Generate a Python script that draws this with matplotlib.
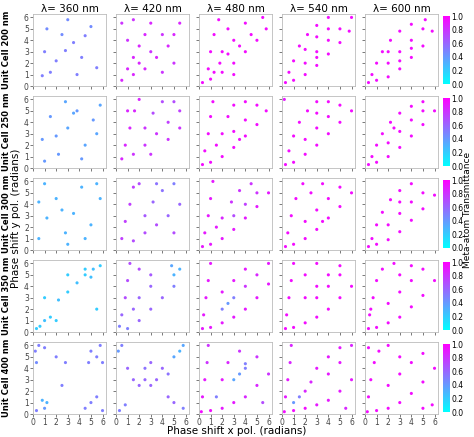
import matplotlib
matplotlib.use('Agg')
from matplotlib import pyplot as plt
import numpy as np

wavelengths = [360, 420, 480, 540, 600]
cells = [200, 250, 300, 350, 400]

# (x phase, y phase, transmittance)
p200_360 = [(1.0,3.0,.5),(1.5,1.2,.5),(2.5,4.5,.45),(3.5,3.8,.5),(4.2,2.5,.5),(5,5.2,.45),(0.8,0.9,.5),(2,2.2,.5),(3,5.8,.45),(5.5,1.6,.5),(4.5,4.4,.5),(1.2,5.0,.45),(3.8,1.0,.5),(2.8,3.1,.5)]
p200_420 = [(0.5,0.5,.85),(1,1.5,.85),(1.5,2.5,.85),(2,3.5,.85),(2.5,4.5,.85),(3,5.5,.85),(1.5,1,.85),(2.5,1.5,.85),(3.5,2.5,.85),(4.5,3.5,.85),(5,4.5,.85),(5.5,5.5,.85),(3,3,.8),(2,2,.85),(4,4.5,.8),(1,4,.8),(5,2,.8),(0.5,5.5,.8),(4,1.2,.8),(1.5,5.8,.8)]
p200_480 = [(0.3,0.3,.95),(0.8,1.5,.95),(1,3,.95),(1.3,4.5,.95),(1.7,5.8,.95),(1,0.6,.95),(2,1.2,.95),(3,2,.95),(4,3,.95),(5,4,.95),(5.8,5,.95),(2,3,.95),(3,4,.95),(2.5,5,.95),(4,5.5,.95),(3,1,.95),(1.8,2,.95),(2.5,2.8,.95),(3.5,3.5,.95),(4.5,4.5,.95),(5.5,6,.95),(1.3,1.2,.95)]
p200_540 = [(0.3,0.3,.95),(0.6,1.2,.95),(1,2.2,.95),(1.5,3.5,.95),(2.2,4.5,.95),(3,5.3,.95),(4,6,.95),(1,0.5,.95),(2,1,.95),(3,1.8,.95),(4,2.8,.95),(5,3.8,.95),(5.8,4.8,.95),(6,6,.95),(2,2,.95),(3,3,.95),(4,4,.95),(5,5,.95),(2,3.2,.95),(3,4.3,.95),(4,5,.95),(3,2.5,.95)]
p200_600 = [(0.3,0.3,.95),(0.6,1,.95),(1,2,.95),(1.5,3,.95),(2.2,4,.95),(3,4.8,.95),(4,5.4,.95),(5.2,5.8,.95),(1,0.5,.95),(2,0.8,.95),(3,1.5,.95),(4,2.5,.95),(5,3.5,.95),(5.8,4.8,.95),(2,2,.95),(3,3,.95),(4,4,.95),(5,5,.95),(2,3,.95),(3,2.2,.95),(4,3.3,.95)]

p250_360 = [(0.8,2.5,.4),(1.5,4.5,.4),(2.2,1.2,.4),(3,3.5,.35),(3.8,5,.4),(4.5,2,.35),(5.2,4.2,.4),(5.8,5.5,.35),(1,0.6,.4),(2.8,5.8,.35),(4.2,0.8,.4),(5.5,3,.35),(2,2.8,.4),(3.5,4.8,.35)]
p250_420 = [(0.5,0.8,.85),(0.8,2,.85),(1.2,3.5,.85),(1.6,5,.85),(2,6,.85),(1.5,1.2,.8),(2.5,2,.8),(3.5,3,.8),(4.5,4,.75),(5.5,5,.75),(2.5,3.5,.8),(3.2,4.8,.7),(4,5.8,.7),(3,1.2,.8),(4.5,2.5,.8),(5.5,3.5,.8),(5,5.8,.7),(1,5,.85)]
p250_480 = [(0.3,0.3,.95),(0.5,1.5,.95),(0.8,3,.95),(1,4.5,.95),(1.2,5.8,.95),(1,0.5,.95),(2,1,.95),(3,1.8,.95),(4,2.8,.95),(5,3.8,.95),(5.8,5,.95),(2,3,.95),(2.5,4.5,.95),(3,5.5,.95),(4,5.8,.95),(3,3.2,.95),(4,4.2,.95),(5,5.5,.95),(1.5,2,.95),(3.5,2.5,.95)]
p250_540 = [(0.3,0.3,.95),(0.6,1.5,.95),(1,2.8,.95),(1.5,4,.95),(2.2,5,.95),(3,5.8,.95),(1,0.5,.95),(2,1.2,.95),(3,2,.95),(4,3,.95),(5,4,.95),(6,5,.95),(2,2.5,.95),(3,3.5,.95),(4,4.5,.95),(5,5.5,.95),(4,5.8,.95),(3,4.8,.95),(0.2,6,.9)]
p250_600 = [(0.3,0.3,.95),(0.6,1,.95),(1,2,.95),(1.5,3,.95),(2.2,4,.95),(3,4.8,.95),(4,5.4,.95),(5,5.8,.95),(1,0.5,.95),(2,1,.95),(3,1.8,.95),(4,2.8,.95),(5,3.8,.95),(6,5,.95),(2,2.2,.95),(3,3.2,.95),(4,4.2,.95),(5,5,.95),(2.5,3.5,.95)]

p300_360 = [(0.5,1,.3),(1.2,2.8,.3),(2,4.5,.3),(2.8,1.5,.3),(3.5,3.2,.3),(4.2,5.5,.3),(5,2.2,.3),(5.8,4.5,.3),(1,5.8,.3),(3,0.5,.3),(4.5,1,.3),(5.5,5.8,.3),(2.5,3.5,.3),(0.5,4.2,.3)]
p300_420 = [(0.5,1,.75),(0.8,2.5,.75),(1.2,4,.75),(1.5,5.5,.75),(1.5,0.8,.7),(2.5,1.5,.7),(3.5,2.2,.7),(4.5,3,.6),(5.5,4,.6),(2.5,3,.65),(3.2,4.2,.6),(4,5.2,.55),(5,5.8,.5),(2,5.8,.7),(5,1.5,.7),(3.5,5.8,.55)]
p300_480 = [(0.3,0.3,.9),(0.5,1.5,.9),(0.8,3,.9),(1,4.5,.9),(1.2,6,.9),(1,0.5,.9),(2,1,.9),(3,1.8,.9),(4,2.8,.9),(5,3.8,.9),(6,5,.9),(2,2.8,.85),(2.8,4.2,.8),(3.5,5.2,.8),(4.5,5.8,.8),(3,3,.7),(4,4,.75),(5,5,.8),(1.5,2,.9)]
p300_540 = [(0.3,0.3,.95),(0.5,1.5,.95),(0.8,3,.95),(1.2,4.5,.95),(1.8,5.8,.95),(1,0.5,.95),(2,1,.95),(3,1.8,.95),(4,2.8,.95),(5,3.8,.95),(6,5,.95),(2,2.5,.95),(3,3.5,.95),(4,4.5,.95),(5,5.5,.95),(2.5,5,.95),(3.5,5.8,.95),(3.5,2.5,.95)]
p300_600 = [(0.3,0.3,.95),(0.6,1,.95),(1,2.2,.95),(1.5,3.3,.95),(2.2,4.4,.95),(3,5.2,.95),(4,5.8,.95),(1,0.5,.95),(2,0.9,.95),(3,1.6,.95),(4,2.6,.95),(5,3.6,.95),(6,4.8,.95),(2,2.2,.95),(3,3.2,.95),(4,4.2,.95),(5,5,.95),(3,4.2,.95)]

p350_360 = [(0.3,0.3,.2),(0.6,0.5,.2),(1,1,.25),(1.5,1.3,.2),(2.2,2.8,.25),(3,3.5,.2),(3.8,4.3,.25),(4.5,5,.2),(5.2,5.5,.25),(5.8,5.8,.2),(4.5,5.5,.2),(5,4.8,.25),(2,1,.2),(3,5,.2),(1,3,.2),(5.5,2,.2)]
p350_420 = [(0.3,0.5,.5),(0.5,1.5,.6),(0.8,3,.7),(1,4.5,.7),(1.2,6,.7),(1,0.3,.5),(2,1,.6),(3,2,.6),(4,3,.6),(5,4,.5),(5.5,5.5,.3),(5,5,.3),(4.8,5.8,.35),(2,3,.6),(3,4,.6),(3,5,.65),(2,5.5,.7),(1.5,2,.6)]
p350_480 = [(0.3,0.3,.9),(0.4,1.5,.9),(0.6,3,.9),(0.8,4.5,.9),(1,6,.9),(1,0.4,.9),(2,0.8,.9),(3,1.3,.9),(4,2,.9),(5,3,.9),(6,4.2,.9),(2,2,.5),(2.5,2.5,.4),(3,3,.5),(2,3.5,.9),(3,4.5,.9),(4,5.5,.9),(4,4,.8),(5,5,.85),(6,6,.9)]
p350_540 = [(0.3,0.3,.95),(0.4,1.5,.95),(0.6,3,.95),(0.8,4.5,.95),(1,6,.95),(1,0.4,.95),(2,0.8,.95),(3,1.3,.95),(4,2,.95),(5,3,.95),(6,4,.95),(2,3,.95),(3,4,.95),(4,5,.95),(5,5.8,.95),(3,3,.95),(4,4,.95),(5,5,.95),(2,5,.95),(3,6,.95)]
p350_600 = [(0.3,0.3,.95),(0.4,1.5,.95),(0.7,3,.95),(1,4.5,.95),(1.5,5.5,.95),(2.5,6,.95),(1,0.4,.95),(2,0.8,.95),(3,1.3,.95),(4,2.2,.95),(5,3.2,.95),(6,4.5,.95),(2,2.5,.95),(3,3.5,.95),(4,4.5,.95),(5,5.5,.95),(3,5,.95),(4,5.8,.95),(0.5,2,.95)]

p400_360 = [(0.2,5.5,.5),(0.5,6,.5),(1,5.8,.5),(0.3,4.5,.45),(1.2,1,.3),(0.8,1.2,.3),(1,0.5,.4),(0.3,0.3,.5),(2,5,.5),(2.8,4.5,.5),(4.5,0.5,.5),(5,1,.5),(5.5,1.5,.5),(5.8,6,.5),(5,5.5,.5),(5.5,5,.5),(6,4.5,.5),(4.8,4.5,.5),(6,0.3,.5),(2.5,2.5,.5)]
p400_420 = [(0.3,0.3,.5),(0.8,0.8,.5),(0.2,5.5,.4),(0.5,6,.5),(1,4,.6),(1.5,3,.6),(2,2.5,.6),(2.5,3,.6),(3,2.5,.6),(3.5,3,.6),(2.5,4,.55),(3,4.5,.6),(4,4,.6),(4.5,3.5,.55),(5,5,.35),(5.5,5.5,.3),(5.8,6,.35),(5,1,.6),(5.8,0.5,.5),(4.5,1.5,.6)]
p400_480 = [(0.2,0.2,.95),(0.3,1.5,.9),(0.5,3,.9),(0.7,4.5,.8),(0.8,6,.8),(1,0.3,.95),(2,0.5,.9),(3,1,.9),(4,1.5,.85),(5,2.5,.85),(6,3.5,.8),(3,3,.35),(3.5,3.5,.4),(4,4,.5),(4,4.4,.5),(2,3,.9),(2.5,4.5,.85),(3.5,5.5,.8),(5,5,.8),(5.5,1,.7),(1.5,1.5,.5)]
p400_540 = [(0.2,0.2,.95),(0.3,1.5,.9),(0.5,3,.9),(0.7,4.5,.85),(0.8,6,.85),(1,0.3,.95),(2,0.5,.95),(3,0.8,.9),(4,1.2,.9),(5,2,.9),(6,3,.9),(1,1,.4),(1.5,1.5,.5),(2,2,.85),(2.5,2.8,.85),(3,4,.9),(4,5,.9),(5,5.8,.9),(4,3.5,.9),(5,4.5,.9),(6,6,.85),(5.5,0.5,.85)]
p400_600 = [(0.2,0.2,.95),(0.3,1.5,.95),(0.5,3,.95),(0.8,4.5,.95),(1.2,5.5,.95),(2,6,.95),(1,0.3,.95),(2,0.5,.95),(3,1,.95),(4,1.8,.95),(5,2.8,.95),(6,4,.95),(2,2.5,.95),(3,3.5,.95),(4,4.5,.95),(5,5.3,.95),(3,5,.95),(0.3,5.8,.95),(5,0.5,.95),(5.8,0.8,.95)]

panels = [
    [p200_360, p200_420, p200_480, p200_540, p200_600],
    [p250_360, p250_420, p250_480, p250_540, p250_600],
    [p300_360, p300_420, p300_480, p300_540, p300_600],
    [p350_360, p350_420, p350_480, p350_540, p350_600],
    [p400_360, p400_420, p400_480, p400_540, p400_600],
]

W, H = 474, 437
fig = plt.figure(figsize=(W / 100, H / 100), dpi=100)

lefts = [33, 116, 199, 282, 365]
tops = [14, 96, 178, 260, 342]
pw, ph = 73, 72

for r in range(5):
    for c in range(5):
        ax = fig.add_axes([lefts[c] / W, 1 - (tops[r] + ph) / H, pw / W, ph / H])
        pts = np.array(panels[r][c])
        sc = ax.scatter(pts[:, 0], pts[:, 1], c=pts[:, 2], cmap='cool',
                        vmin=0, vmax=1, s=5, linewidths=0)
        ax.set_xlim(0, 6.3)
        ax.set_ylim(0, 6.3)
        ax.set_xticks(range(7))
        ax.set_yticks(range(7))
        ax.tick_params(labelsize=5.5, length=2, width=0.5, pad=1, colors='#444444')
        if r < 4:
            ax.set_xticklabels([])
        if c > 0:
            ax.set_yticklabels([])
        for s in ax.spines.values():
            s.set_color('#bbbbbb')
            s.set_linewidth(0.6)
        if r == 0:
            ax.set_title('λ= %d nm' % wavelengths[c], fontsize=7.5, pad=1)
        if c == 0:
            fig.text(7 / W, 1 - (tops[r] + ph / 2) / H, 'Unit Cell %d nm' % cells[r],
                     rotation=90, ha='center', va='center', fontsize=6, fontweight='bold')
    cax = fig.add_axes([443 / W, 1 - (tops[r] + ph - 2) / H, 7 / W, (ph - 4) / H])
    cb = fig.colorbar(sc, cax=cax, ticks=[0, 0.2, 0.4, 0.6, 0.8, 1.0])
    cb.ax.tick_params(labelsize=5.5, length=0, pad=1)
    cb.outline.set_visible(False)
    cb.ax.set_yticklabels(['0.0', '0.2', '0.4', '0.6', '0.8', '1.0'])

fig.text(16 / W, 0.5, 'Phase shift y pol. (radians)', rotation=90, ha='center', va='center', fontsize=7.5)
fig.text(0.5, 1 - 431 / H, 'Phase shift x pol. (radians)', ha='center', va='center', fontsize=7.5)
fig.text(468 / W, 0.52, 'Meta-atom Transmittance', rotation=90, ha='center', va='center', fontsize=6.5)

fig.savefig('out.png', dpi=100)
